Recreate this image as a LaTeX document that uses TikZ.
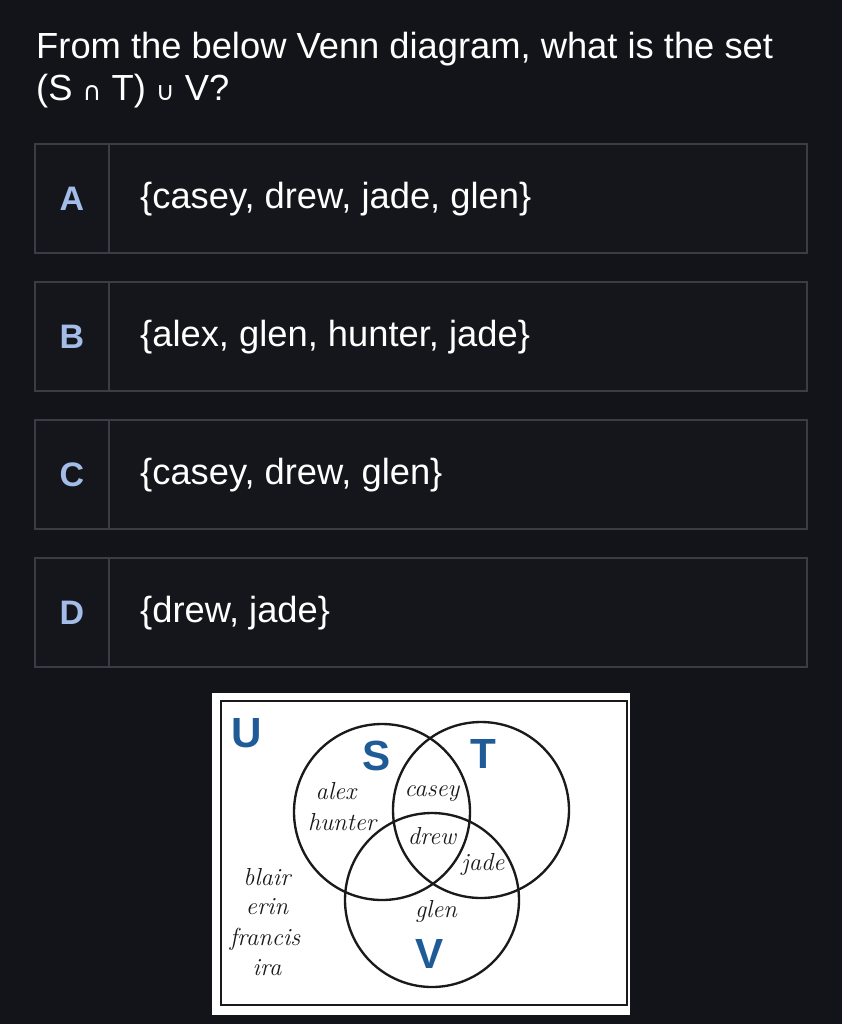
\documentclass[tikz,border=0pt]{standalone}
\usepackage{fontspec}
\setsansfont{Liberation Sans}
\newfontfamily\symfnt{DejaVu Sans}
\usetikzlibrary{positioning}
\definecolor{pagebg}{HTML}{131419}
\definecolor{boxline}{HTML}{3A3D45}
\definecolor{boxfill}{HTML}{15161B}
\definecolor{letterblue}{HTML}{A3BCE8}
\definecolor{setblue}{HTML}{1F5C97}
\definecolor{inkline}{HTML}{1A1A1A}

\begin{document}
\begin{tikzpicture}[x=0.03cm,y=-0.03cm,
  uitext/.style={text=white,font=\sffamily\fontsize{31}{37}\selectfont,inner sep=0pt},
  optletter/.style={text=letterblue,font=\sffamily\bfseries\fontsize{29}{35}\selectfont,inner sep=0pt},
  setname/.style={text=setblue,font=\sffamily\bfseries\fontsize{36}{40}\selectfont,inner sep=0pt},
  member/.style={text=inkline,font=\itshape\fontsize{21}{23}\selectfont,inner sep=0pt},
  vennline/.style={draw=inkline,line width=2pt}]
\fill[pagebg] (0,0) rectangle (842,1024);
\useasboundingbox (0,0) rectangle (842,1024);

% question
\node[uitext,anchor=base west] (title1) at (36,58) {From the below Venn diagram, what is the set};
\node[uitext,anchor=base west] (title2) at (36,100) {(S {\symfnt\fontsize{22}{22}\selectfont ∩} T) {\symfnt\fontsize{22}{22}\selectfont ∪} V?};

% answer boxes
\foreach \y/\l/\t in {144/A/{\{casey, drew, jade, glen\}},
                      282/B/{\{alex, glen, hunter, jade\}},
                      420/C/{\{casey, drew, glen\}},
                      558/D/{\{drew, jade\}}}{
\draw[draw=boxline,fill=boxfill,line width=1.3pt] (35,\y) rectangle (807,\y+109);
\draw[boxline,line width=1.3pt] (109,\y) -- (109,\y+109);
\node[optletter] (letter\l) at (72,\y+55) {\l};
\node[uitext,anchor=west] (text\l) at (140,\y+55) {\t};
}

% venn picture
\fill[white] (212,693) rectangle (630,1015);
\draw[vennline,line width=1.6pt] (221,701) rectangle (627,1005);
\draw[vennline] (382,812) circle [radius=88];
\draw[vennline] (481,810) circle [radius=88];
\draw[vennline] (432,900) circle [radius=87];

\node[setname] (setU) at (247,733) {U};
\node[setname] (setS) at (377,756) {S};
\node[setname] (setT) at (483,754) {T};
\node[setname] (setV) at (430,954) {V};

\node[member] (alex) at (336,791) {alex};
\node[member] (hunter) at (342,822) {hunter};
\node[member] (casey) at (432,794) {casey};
\node[member] (drew) at (432,836) {drew};
\node[member] (jade) at (483,864) {jade};
\node[member] (glen) at (436,911) {glen};
\node[member] (blair) at (267,877) {blair};
\node[member] (erin) at (267,907) {erin};
\node[member] (francis) at (265,939) {francis};
\node[member] (ira) at (267,968) {ira};
\end{tikzpicture}
\end{document}
